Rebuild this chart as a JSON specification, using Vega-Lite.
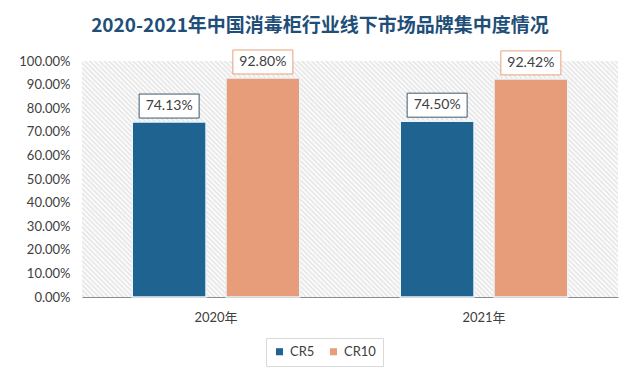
{
"$schema": "https://vega.github.io/schema/vega-lite/v6.json",
"width": 536,
"height": 236,
"autosize": "none",
"padding": {"left": 82, "top": 61, "right": 22, "bottom": 86},
"background": "white",
"view": {"stroke": null, "fill": {"gradient": "linear", "x1": 0, "y1": 1, "x2": 1.2064, "y2": 0.4688, "stops": [
{"offset":0,"color":"#fff"},{"offset":0.003125,"color":"#e4e4e4"},{"offset":0.00625,"color":"#fff"},{"offset":0.009375,"color":"#e4e4e4"},{"offset":0.0125,"color":"#fff"},{"offset":0.015625,"color":"#e4e4e4"},{"offset":0.01875,"color":"#fff"},{"offset":0.021875,"color":"#e4e4e4"},
{"offset":0.025,"color":"#fff"},{"offset":0.028125,"color":"#e4e4e4"},{"offset":0.03125,"color":"#fff"},{"offset":0.034375,"color":"#e4e4e4"},{"offset":0.0375,"color":"#fff"},{"offset":0.040625,"color":"#e4e4e4"},{"offset":0.04375,"color":"#fff"},{"offset":0.046875,"color":"#e4e4e4"},
{"offset":0.05,"color":"#fff"},{"offset":0.053125,"color":"#e4e4e4"},{"offset":0.05625,"color":"#fff"},{"offset":0.059375,"color":"#e4e4e4"},{"offset":0.0625,"color":"#fff"},{"offset":0.065625,"color":"#e4e4e4"},{"offset":0.06875,"color":"#fff"},{"offset":0.071875,"color":"#e4e4e4"},
{"offset":0.075,"color":"#fff"},{"offset":0.078125,"color":"#e4e4e4"},{"offset":0.08125,"color":"#fff"},{"offset":0.084375,"color":"#e4e4e4"},{"offset":0.0875,"color":"#fff"},{"offset":0.090625,"color":"#e4e4e4"},{"offset":0.09375,"color":"#fff"},{"offset":0.096875,"color":"#e4e4e4"},
{"offset":0.1,"color":"#fff"},{"offset":0.103125,"color":"#e4e4e4"},{"offset":0.10625,"color":"#fff"},{"offset":0.109375,"color":"#e4e4e4"},{"offset":0.1125,"color":"#fff"},{"offset":0.115625,"color":"#e4e4e4"},{"offset":0.11875,"color":"#fff"},{"offset":0.121875,"color":"#e4e4e4"},
{"offset":0.125,"color":"#fff"},{"offset":0.128125,"color":"#e4e4e4"},{"offset":0.13125,"color":"#fff"},{"offset":0.134375,"color":"#e4e4e4"},{"offset":0.1375,"color":"#fff"},{"offset":0.140625,"color":"#e4e4e4"},{"offset":0.14375,"color":"#fff"},{"offset":0.146875,"color":"#e4e4e4"},
{"offset":0.15,"color":"#fff"},{"offset":0.153125,"color":"#e4e4e4"},{"offset":0.15625,"color":"#fff"},{"offset":0.159375,"color":"#e4e4e4"},{"offset":0.1625,"color":"#fff"},{"offset":0.165625,"color":"#e4e4e4"},{"offset":0.16875,"color":"#fff"},{"offset":0.171875,"color":"#e4e4e4"},
{"offset":0.175,"color":"#fff"},{"offset":0.178125,"color":"#e4e4e4"},{"offset":0.18125,"color":"#fff"},{"offset":0.184375,"color":"#e4e4e4"},{"offset":0.1875,"color":"#fff"},{"offset":0.190625,"color":"#e4e4e4"},{"offset":0.19375,"color":"#fff"},{"offset":0.196875,"color":"#e4e4e4"},
{"offset":0.2,"color":"#fff"},{"offset":0.203125,"color":"#e4e4e4"},{"offset":0.20625,"color":"#fff"},{"offset":0.209375,"color":"#e4e4e4"},{"offset":0.2125,"color":"#fff"},{"offset":0.215625,"color":"#e4e4e4"},{"offset":0.21875,"color":"#fff"},{"offset":0.221875,"color":"#e4e4e4"},
{"offset":0.225,"color":"#fff"},{"offset":0.228125,"color":"#e4e4e4"},{"offset":0.23125,"color":"#fff"},{"offset":0.234375,"color":"#e4e4e4"},{"offset":0.2375,"color":"#fff"},{"offset":0.240625,"color":"#e4e4e4"},{"offset":0.24375,"color":"#fff"},{"offset":0.246875,"color":"#e4e4e4"},
{"offset":0.25,"color":"#fff"},{"offset":0.253125,"color":"#e4e4e4"},{"offset":0.25625,"color":"#fff"},{"offset":0.259375,"color":"#e4e4e4"},{"offset":0.2625,"color":"#fff"},{"offset":0.265625,"color":"#e4e4e4"},{"offset":0.26875,"color":"#fff"},{"offset":0.271875,"color":"#e4e4e4"},
{"offset":0.275,"color":"#fff"},{"offset":0.278125,"color":"#e4e4e4"},{"offset":0.28125,"color":"#fff"},{"offset":0.284375,"color":"#e4e4e4"},{"offset":0.2875,"color":"#fff"},{"offset":0.290625,"color":"#e4e4e4"},{"offset":0.29375,"color":"#fff"},{"offset":0.296875,"color":"#e4e4e4"},
{"offset":0.3,"color":"#fff"},{"offset":0.303125,"color":"#e4e4e4"},{"offset":0.30625,"color":"#fff"},{"offset":0.309375,"color":"#e4e4e4"},{"offset":0.3125,"color":"#fff"},{"offset":0.315625,"color":"#e4e4e4"},{"offset":0.31875,"color":"#fff"},{"offset":0.321875,"color":"#e4e4e4"},
{"offset":0.325,"color":"#fff"},{"offset":0.328125,"color":"#e4e4e4"},{"offset":0.33125,"color":"#fff"},{"offset":0.334375,"color":"#e4e4e4"},{"offset":0.3375,"color":"#fff"},{"offset":0.340625,"color":"#e4e4e4"},{"offset":0.34375,"color":"#fff"},{"offset":0.346875,"color":"#e4e4e4"},
{"offset":0.35,"color":"#fff"},{"offset":0.353125,"color":"#e4e4e4"},{"offset":0.35625,"color":"#fff"},{"offset":0.359375,"color":"#e4e4e4"},{"offset":0.3625,"color":"#fff"},{"offset":0.365625,"color":"#e4e4e4"},{"offset":0.36875,"color":"#fff"},{"offset":0.371875,"color":"#e4e4e4"},
{"offset":0.375,"color":"#fff"},{"offset":0.378125,"color":"#e4e4e4"},{"offset":0.38125,"color":"#fff"},{"offset":0.384375,"color":"#e4e4e4"},{"offset":0.3875,"color":"#fff"},{"offset":0.390625,"color":"#e4e4e4"},{"offset":0.39375,"color":"#fff"},{"offset":0.396875,"color":"#e4e4e4"},
{"offset":0.4,"color":"#fff"},{"offset":0.403125,"color":"#e4e4e4"},{"offset":0.40625,"color":"#fff"},{"offset":0.409375,"color":"#e4e4e4"},{"offset":0.4125,"color":"#fff"},{"offset":0.415625,"color":"#e4e4e4"},{"offset":0.41875,"color":"#fff"},{"offset":0.421875,"color":"#e4e4e4"},
{"offset":0.425,"color":"#fff"},{"offset":0.428125,"color":"#e4e4e4"},{"offset":0.43125,"color":"#fff"},{"offset":0.434375,"color":"#e4e4e4"},{"offset":0.4375,"color":"#fff"},{"offset":0.440625,"color":"#e4e4e4"},{"offset":0.44375,"color":"#fff"},{"offset":0.446875,"color":"#e4e4e4"},
{"offset":0.45,"color":"#fff"},{"offset":0.453125,"color":"#e4e4e4"},{"offset":0.45625,"color":"#fff"},{"offset":0.459375,"color":"#e4e4e4"},{"offset":0.4625,"color":"#fff"},{"offset":0.465625,"color":"#e4e4e4"},{"offset":0.46875,"color":"#fff"},{"offset":0.471875,"color":"#e4e4e4"},
{"offset":0.475,"color":"#fff"},{"offset":0.478125,"color":"#e4e4e4"},{"offset":0.48125,"color":"#fff"},{"offset":0.484375,"color":"#e4e4e4"},{"offset":0.4875,"color":"#fff"},{"offset":0.490625,"color":"#e4e4e4"},{"offset":0.49375,"color":"#fff"},{"offset":0.496875,"color":"#e4e4e4"},
{"offset":0.5,"color":"#fff"},{"offset":0.503125,"color":"#e4e4e4"},{"offset":0.50625,"color":"#fff"},{"offset":0.509375,"color":"#e4e4e4"},{"offset":0.5125,"color":"#fff"},{"offset":0.515625,"color":"#e4e4e4"},{"offset":0.51875,"color":"#fff"},{"offset":0.521875,"color":"#e4e4e4"},
{"offset":0.525,"color":"#fff"},{"offset":0.528125,"color":"#e4e4e4"},{"offset":0.53125,"color":"#fff"},{"offset":0.534375,"color":"#e4e4e4"},{"offset":0.5375,"color":"#fff"},{"offset":0.540625,"color":"#e4e4e4"},{"offset":0.54375,"color":"#fff"},{"offset":0.546875,"color":"#e4e4e4"},
{"offset":0.55,"color":"#fff"},{"offset":0.553125,"color":"#e4e4e4"},{"offset":0.55625,"color":"#fff"},{"offset":0.559375,"color":"#e4e4e4"},{"offset":0.5625,"color":"#fff"},{"offset":0.565625,"color":"#e4e4e4"},{"offset":0.56875,"color":"#fff"},{"offset":0.571875,"color":"#e4e4e4"},
{"offset":0.575,"color":"#fff"},{"offset":0.578125,"color":"#e4e4e4"},{"offset":0.58125,"color":"#fff"},{"offset":0.584375,"color":"#e4e4e4"},{"offset":0.5875,"color":"#fff"},{"offset":0.590625,"color":"#e4e4e4"},{"offset":0.59375,"color":"#fff"},{"offset":0.596875,"color":"#e4e4e4"},
{"offset":0.6,"color":"#fff"},{"offset":0.603125,"color":"#e4e4e4"},{"offset":0.60625,"color":"#fff"},{"offset":0.609375,"color":"#e4e4e4"},{"offset":0.6125,"color":"#fff"},{"offset":0.615625,"color":"#e4e4e4"},{"offset":0.61875,"color":"#fff"},{"offset":0.621875,"color":"#e4e4e4"},
{"offset":0.625,"color":"#fff"},{"offset":0.628125,"color":"#e4e4e4"},{"offset":0.63125,"color":"#fff"},{"offset":0.634375,"color":"#e4e4e4"},{"offset":0.6375,"color":"#fff"},{"offset":0.640625,"color":"#e4e4e4"},{"offset":0.64375,"color":"#fff"},{"offset":0.646875,"color":"#e4e4e4"},
{"offset":0.65,"color":"#fff"},{"offset":0.653125,"color":"#e4e4e4"},{"offset":0.65625,"color":"#fff"},{"offset":0.659375,"color":"#e4e4e4"},{"offset":0.6625,"color":"#fff"},{"offset":0.665625,"color":"#e4e4e4"},{"offset":0.66875,"color":"#fff"},{"offset":0.671875,"color":"#e4e4e4"},
{"offset":0.675,"color":"#fff"},{"offset":0.678125,"color":"#e4e4e4"},{"offset":0.68125,"color":"#fff"},{"offset":0.684375,"color":"#e4e4e4"},{"offset":0.6875,"color":"#fff"},{"offset":0.690625,"color":"#e4e4e4"},{"offset":0.69375,"color":"#fff"},{"offset":0.696875,"color":"#e4e4e4"},
{"offset":0.7,"color":"#fff"},{"offset":0.703125,"color":"#e4e4e4"},{"offset":0.70625,"color":"#fff"},{"offset":0.709375,"color":"#e4e4e4"},{"offset":0.7125,"color":"#fff"},{"offset":0.715625,"color":"#e4e4e4"},{"offset":0.71875,"color":"#fff"},{"offset":0.721875,"color":"#e4e4e4"},
{"offset":0.725,"color":"#fff"},{"offset":0.728125,"color":"#e4e4e4"},{"offset":0.73125,"color":"#fff"},{"offset":0.734375,"color":"#e4e4e4"},{"offset":0.7375,"color":"#fff"},{"offset":0.740625,"color":"#e4e4e4"},{"offset":0.74375,"color":"#fff"},{"offset":0.746875,"color":"#e4e4e4"},
{"offset":0.75,"color":"#fff"},{"offset":0.753125,"color":"#e4e4e4"},{"offset":0.75625,"color":"#fff"},{"offset":0.759375,"color":"#e4e4e4"},{"offset":0.7625,"color":"#fff"},{"offset":0.765625,"color":"#e4e4e4"},{"offset":0.76875,"color":"#fff"},{"offset":0.771875,"color":"#e4e4e4"},
{"offset":0.775,"color":"#fff"},{"offset":0.778125,"color":"#e4e4e4"},{"offset":0.78125,"color":"#fff"},{"offset":0.784375,"color":"#e4e4e4"},{"offset":0.7875,"color":"#fff"},{"offset":0.790625,"color":"#e4e4e4"},{"offset":0.79375,"color":"#fff"},{"offset":0.796875,"color":"#e4e4e4"},
{"offset":0.8,"color":"#fff"},{"offset":0.803125,"color":"#e4e4e4"},{"offset":0.80625,"color":"#fff"},{"offset":0.809375,"color":"#e4e4e4"},{"offset":0.8125,"color":"#fff"},{"offset":0.815625,"color":"#e4e4e4"},{"offset":0.81875,"color":"#fff"},{"offset":0.821875,"color":"#e4e4e4"},
{"offset":0.825,"color":"#fff"},{"offset":0.828125,"color":"#e4e4e4"},{"offset":0.83125,"color":"#fff"},{"offset":0.834375,"color":"#e4e4e4"},{"offset":0.8375,"color":"#fff"},{"offset":0.840625,"color":"#e4e4e4"},{"offset":0.84375,"color":"#fff"},{"offset":0.846875,"color":"#e4e4e4"},
{"offset":0.85,"color":"#fff"},{"offset":0.853125,"color":"#e4e4e4"},{"offset":0.85625,"color":"#fff"},{"offset":0.859375,"color":"#e4e4e4"},{"offset":0.8625,"color":"#fff"},{"offset":0.865625,"color":"#e4e4e4"},{"offset":0.86875,"color":"#fff"},{"offset":0.871875,"color":"#e4e4e4"},
{"offset":0.875,"color":"#fff"},{"offset":0.878125,"color":"#e4e4e4"},{"offset":0.88125,"color":"#fff"},{"offset":0.884375,"color":"#e4e4e4"},{"offset":0.8875,"color":"#fff"},{"offset":0.890625,"color":"#e4e4e4"},{"offset":0.89375,"color":"#fff"},{"offset":0.896875,"color":"#e4e4e4"},
{"offset":0.9,"color":"#fff"},{"offset":0.903125,"color":"#e4e4e4"},{"offset":0.90625,"color":"#fff"},{"offset":0.909375,"color":"#e4e4e4"},{"offset":0.9125,"color":"#fff"},{"offset":0.915625,"color":"#e4e4e4"},{"offset":0.91875,"color":"#fff"},{"offset":0.921875,"color":"#e4e4e4"},
{"offset":0.925,"color":"#fff"},{"offset":0.928125,"color":"#e4e4e4"},{"offset":0.93125,"color":"#fff"},{"offset":0.934375,"color":"#e4e4e4"},{"offset":0.9375,"color":"#fff"},{"offset":0.940625,"color":"#e4e4e4"},{"offset":0.94375,"color":"#fff"},{"offset":0.946875,"color":"#e4e4e4"},
{"offset":0.95,"color":"#fff"},{"offset":0.953125,"color":"#e4e4e4"},{"offset":0.95625,"color":"#fff"},{"offset":0.959375,"color":"#e4e4e4"},{"offset":0.9625,"color":"#fff"},{"offset":0.965625,"color":"#e4e4e4"},{"offset":0.96875,"color":"#fff"},{"offset":0.971875,"color":"#e4e4e4"},
{"offset":0.975,"color":"#fff"},{"offset":0.978125,"color":"#e4e4e4"},{"offset":0.98125,"color":"#fff"},{"offset":0.984375,"color":"#e4e4e4"},{"offset":0.9875,"color":"#fff"},{"offset":0.990625,"color":"#e4e4e4"},{"offset":0.99375,"color":"#fff"},{"offset":0.996875,"color":"#e4e4e4"},
{"offset":1,"color":"#fff"}
]}},
"title": {"text": "2020-2021年中国消毒柜行业线下市场品牌集中度情况", "font": "Noto Sans CJK SC", "fontSize": 19, "fontWeight": "bold", "color": "#1f4e79", "anchor": "middle", "dx": -30, "offset": 12},
"data": {"values": [
{"year": "2020年", "series": "CR5", "value": 0.7413},
{"year": "2020年", "series": "CR10", "value": 0.928},
{"year": "2021年", "series": "CR5", "value": 0.745},
{"year": "2021年", "series": "CR10", "value": 0.9242}
]},
"encoding": {
"x": {"field": "year", "type": "nominal", "scale": {"paddingInner": 0.375, "paddingOuter": 0.1875},
"axis": {"title": null, "labelAngle": 0, "labelFont": "Lato, Noto Sans CJK SC", "labelFontSize": 13, "labelColor": "#404040", "ticks": false, "labelPadding": 14, "domainColor": "#8c8c8c", "domainWidth": 1.2, "grid": false}},
"xOffset": {"field": "series", "type": "nominal", "sort": ["CR5", "CR10"], "scale": {"paddingInner": 0.213, "paddingOuter": 0}},
"y": {"field": "value", "type": "quantitative", "scale": {"domain": [0, 1], "nice": false},
"axis": {"title": null, "values": [0, 0.1, 0.2, 0.3, 0.4, 0.5, 0.6, 0.7, 0.8, 0.9, 1], "format": ".2%", "labelFont": "Lato", "labelFontSize": 13, "labelColor": "#404040", "ticks": false, "domain": false, "grid": false, "labelPadding": 12}}
},
"layer": [
{"mark": {"type": "bar", "stroke": "#eaf4f9", "strokeWidth": 1.5},
"encoding": {"color": {"field": "series", "type": "nominal", "sort": ["CR5", "CR10"], "scale": {"domain": ["CR5", "CR10"], "range": ["#1f6391", "#e89d7a"]},
"legend": {"title": null, "orient": "none", "legendX": 184, "legendY": 277, "direction": "horizontal", "symbolType": "square", "symbolSize": 50, "symbolStrokeWidth": 0, "labelFont": "Lato", "labelFontSize": 13, "labelColor": "#404040", "strokeColor": "#d9d9d9", "fillColor": "white", "padding": 7, "columnPadding": 12}}}},
{"mark": {"type": "point", "shape": "M-1,-0.4H1V0.4H-1Z", "size": 3600, "filled": true, "fill": "white", "strokeWidth": 1, "yOffset": -16, "opacity": 1},
"encoding": {"stroke": {"field": "series", "type": "nominal", "scale": {"domain": ["CR5", "CR10"], "range": ["#3d5a6e", "#e8a07c"]}, "legend": null}}},
{"mark": {"type": "text", "yOffset": -16, "font": "Lato", "fontSize": 14, "color": "#404040"},
"encoding": {"text": {"field": "value", "type": "quantitative", "format": ".2%"}}}
]
}
